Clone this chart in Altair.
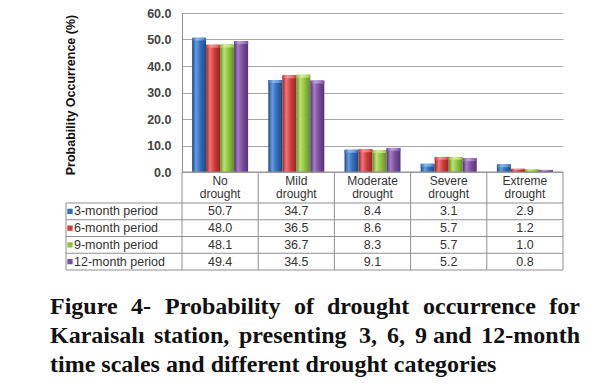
import altair as alt
import pandas as pd

# ---------------- data ----------------
categories = ["No drought", "Mild drought", "Moderate drought", "Severe drought", "Extreme drought"]
periods = ["3-month period", "6-month period", "9-month period", "12-month period"]
v3 = [50.7, 34.7, 8.4, 3.1, 2.9]
v6 = [48.0, 36.5, 8.6, 5.7, 1.2]
v9 = [48.1, 36.7, 8.3, 5.7, 1.0]
v12 = [49.4, 34.5, 9.1, 5.2, 0.8]
y_ticks = [0, 10, 20, 30, 40, 50, 60]
y_title = "Probability Occurrence  (%)"
caption_line1 = ["Figure", "4-", "Probability", "of", "drought", "occurrence", "for"]
caption_line2 = ["Karaisalı", "station,", "presenting", "3,", "6,", "9", "and", "12-month"]
caption_line3 = "time scales and different drought categories"

series = [v3, v6, v9, v12]
rows = []
for p, vals in zip(periods, series):
    for c, v in zip(categories, vals):
        rows.append({"category": c, "period": p, "value": v, "label": f"{v:.1f}"})
df = pd.DataFrame(rows)
df_cat = pd.DataFrame({"category": categories})
df_per = pd.DataFrame({"period": periods})
one = pd.DataFrame({"k": [0]})

# ---------------- style ----------------
base_cols = ["#2F6DBD", "#D03B3B", "#8EC33D", "#7C4E9E"]
light_cols = ["#6A9BDB", "#EC7676", "#BCE077", "#A47DC2"]
dark_cols = ["#1D4A85", "#972424", "#648F27", "#553272"]
cap_cols = ["#8FB6E8", "#F29A9A", "#D2EC9C", "#BFA2D8"]
FONT = "Liberation Sans"
W, H = 381, 257
BAR_H = 159
TAB_TOP, TAB_BOT = 190, 257
LEG_LEFT = -116
GRID = "#A8A8A8"
LINE = "#8F8F8F"

# ---------------- bars ----------------
x_bar = alt.X("category:N", sort=categories,
              scale=alt.Scale(domain=categories, paddingInner=0.265, paddingOuter=0.1325),
              axis=None)
xoff = alt.XOffset("period:N", sort=periods,
                   scale=alt.Scale(domain=periods, paddingInner=0, paddingOuter=0))
y_scale = alt.Scale(domain=[0, 60], range=[BAR_H, 0], nice=False)
y_bar = alt.Y("value:Q", scale=y_scale,
              axis=alt.Axis(values=y_ticks, format=".1f", grid=True, gridColor=GRID,
                            gridWidth=1, ticks=False, domain=True, domainColor=LINE,
                            labelFont=FONT, labelFontSize=12.5, labelFontWeight="bold",
                            labelColor="#444444", labelPadding=11,
                            title=y_title, titleFont=FONT, titleFontSize=12.5,
                            titleFontWeight="bold", titleColor="#111111",
                            titleX=-112, titleY=BAR_H / 2 + 2, titleAngle=270,
                            titleAlign="center", titleBaseline="middle"))

bar_layers = []
for i, p in enumerate(periods):
    grad = alt.LinearGradient(
        gradient="linear", x1=0, x2=1, y1=0, y2=0,
        stops=[alt.GradientStop(color=dark_cols[i], offset=0),
               alt.GradientStop(color=light_cols[i], offset=0.28),
               alt.GradientStop(color=base_cols[i], offset=0.6),
               alt.GradientStop(color=dark_cols[i], offset=1)])
    bar_layers.append(
        alt.Chart(df).transform_filter(alt.datum.period == p)
        .mark_bar(fill=grad, strokeWidth=0)
        .encode(x=x_bar, xOffset=xoff, y=y_bar)
    )
    cap_grad = alt.LinearGradient(
        gradient="linear", x1=0, x2=1, y1=0, y2=0,
        stops=[alt.GradientStop(color=base_cols[i], offset=0),
               alt.GradientStop(color=cap_cols[i], offset=0.35),
               alt.GradientStop(color=light_cols[i], offset=0.7),
               alt.GradientStop(color=base_cols[i], offset=1)])
    bar_layers.append(
        alt.Chart(df).transform_filter(alt.datum.period == p)
        .transform_calculate(cap_low="max(datum.value - 1.1, datum.value * 0.6)")
        .mark_bar(fill=cap_grad, strokeWidth=0, cornerRadiusTopLeft=3, cornerRadiusTopRight=3)
        .encode(x=x_bar, xOffset=xoff, y=y_bar, y2="cap_low:Q")
    )
bars = alt.layer(*bar_layers)

# ---------------- table ----------------
x_tab_scale = alt.Scale(domain=categories, paddingInner=0, paddingOuter=0)
y_tab_scale = alt.Scale(domain=periods, range=[TAB_TOP, TAB_BOT], paddingInner=0, paddingOuter=0)
x_tab = alt.X("category:N", sort=categories, scale=x_tab_scale, axis=None)
y_tab = alt.Y("period:N", sort=periods, scale=y_tab_scale, axis=None)

vlines = alt.Chart(df_cat).mark_rule(color=LINE, strokeWidth=1).encode(
    x=alt.X("category:N", sort=categories, scale=x_tab_scale, axis=None, bandPosition=0),
    y=alt.value(BAR_H), y2=alt.value(TAB_BOT))
vline_last = alt.Chart(df_cat).transform_filter(alt.datum.category == categories[-1]).mark_rule(
    color=LINE, strokeWidth=1).encode(
    x=alt.X("category:N", sort=categories, scale=x_tab_scale, axis=None, bandPosition=1),
    y=alt.value(BAR_H), y2=alt.value(TAB_BOT))
hlines = alt.Chart(df_per).mark_rule(color=LINE, strokeWidth=1).encode(
    y=alt.Y("period:N", sort=periods, scale=y_tab_scale, axis=None, bandPosition=0),
    x=alt.value(LEG_LEFT), x2=alt.value(W))
hline_last = alt.Chart(df_per).transform_filter(alt.datum.period == periods[-1]).mark_rule(
    color=LINE, strokeWidth=1).encode(
    y=alt.Y("period:N", sort=periods, scale=y_tab_scale, axis=None, bandPosition=1),
    x=alt.value(LEG_LEFT), x2=alt.value(W))
header_top = alt.Chart(one).mark_rule(color=LINE, strokeWidth=1).encode(
    x=alt.value(0), x2=alt.value(W), y=alt.value(BAR_H))
left_border = alt.Chart(one).mark_rule(color=LINE, strokeWidth=1).encode(
    x=alt.value(LEG_LEFT), y=alt.value(TAB_TOP), y2=alt.value(TAB_BOT))

head_font = dict(font=FONT, fontSize=12, color="#333333", baseline="middle", align="center")
header1 = alt.Chart(df_cat).transform_calculate(
    w="split(datum.category, ' ')[0]").mark_text(**head_font).encode(
    x=x_tab, y=alt.value(168), text="w:N")
header2 = alt.Chart(df_cat).transform_calculate(
    w="split(datum.category, ' ')[1]").mark_text(**head_font).encode(
    x=x_tab, y=alt.value(181), text="w:N")
values = alt.Chart(df).mark_text(font=FONT, fontSize=12.5, color="#333333",
                                 baseline="middle", align="center").encode(
    x=x_tab, y=y_tab, text="label:N")
leg_text = alt.Chart(df_per).mark_text(font=FONT, fontSize=12.5, color="#333333",
                                       baseline="middle", align="left").encode(
    x=alt.value(-108), y=y_tab, text="period:N")
leg_sq = alt.Chart(df_per).mark_square(size=28, opacity=1, filled=True).encode(
    x=alt.value(-112), y=y_tab,
    color=alt.Color("period:N", sort=periods,
                    scale=alt.Scale(domain=periods, range=base_cols), legend=None))

table = alt.layer(vlines, vline_last, hlines, hline_last, header_top, left_border,
                  header1, header2, values, leg_text, leg_sq)

# ---------------- caption (justified by word placement) ----------------
cap_font = dict(font="Liberation Serif", fontSize=24, fontWeight="bold", color="#111111",
                baseline="alphabetic")
l1_x = [-132, -51, -17, 112, 145, 241]
l2_x = [-132, -28, 57, 177, 205, 233, 251]
cap_layers = []
for w, xx in zip(caption_line1[:-1], l1_x):
    cap_layers.append(alt.Chart(one).mark_text(align="left", **cap_font).encode(
        x=alt.value(xx), y=alt.value(301), text=alt.value(w)))
cap_layers.append(alt.Chart(one).mark_text(align="right", **cap_font).encode(
    x=alt.value(398), y=alt.value(301), text=alt.value(caption_line1[-1])))
for w, xx in zip(caption_line2[:-1], l2_x):
    cap_layers.append(alt.Chart(one).mark_text(align="left", **cap_font).encode(
        x=alt.value(xx), y=alt.value(330), text=alt.value(w)))
cap_layers.append(alt.Chart(one).mark_text(align="right", **cap_font).encode(
    x=alt.value(398), y=alt.value(330), text=alt.value(caption_line2[-1])))
cap_layers.append(alt.Chart(one).mark_text(align="left", **cap_font).encode(
    x=alt.value(-132), y=alt.value(359), text=alt.value(caption_line3)))
caption = alt.layer(*cap_layers)

chart = alt.layer(bars, table, caption).resolve_scale(
    x="independent", y="independent"
).properties(
    width=W, height=H,
    autosize=alt.AutoSizeParams(type="none"),
    padding={"left": 174, "top": 5, "right": 37, "bottom": 111},
    background="white",
).configure_view(stroke=None)

chart.save("out.html", embed_options={"renderer": "svg", "actions": False})
